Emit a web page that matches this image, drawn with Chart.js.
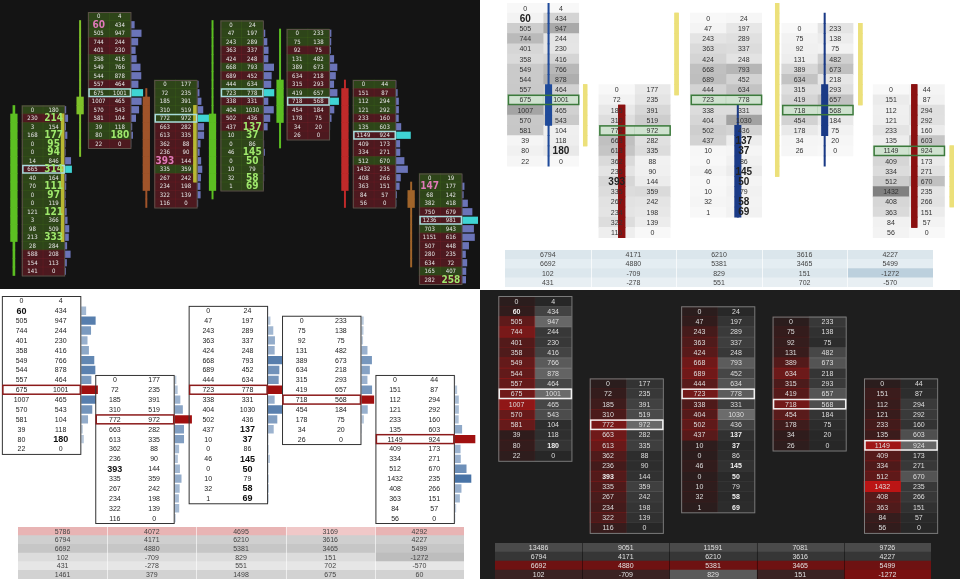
<!DOCTYPE html>
<html lang="en">
<head>
<meta charset="UTF-8">
<title>Footprint</title>
<script src="https://cdn.jsdelivr.net/npm/chart.js"></script>
<style>
  body { margin: 0; background: #fff; width: 960px; height: 579px; overflow: hidden; position: relative; }
  .panel { position: absolute; width: 480px; height: 289px; overflow: hidden; }
  .panel canvas { position: absolute; }
</style>
</head>
<body>
<div class="panel" id="p0" style="left:0;top:0;background:#141414"></div>
<div class="panel" id="p1" style="left:480px;top:0;background:#fff"></div>
<div class="panel" id="p2" style="left:0;top:290px;background:#fff"></div>
<div class="panel" id="p3" style="left:480px;top:290px;background:#1e1e1e"></div>
<script>
// footprint columns: bid x ask per price row, top to bottom
var colABid = [0, 230, 3, 168, 0, 0, 14, 665, 40, 70, 0, 0, 121, 3, 98, 213, 28, 588, 154, 141]
var colAAsk = [180, 214, 154, 177, 95, 94, 846, 314, 164, 111, 97, 119, 121, 366, 509, 333, 284, 208, 113, 0]
var col1Bid = [0, 60, 505, 744, 401, 358, 549, 544, 557, 675, 1007, 570, 581, 39, 80, 22]
var col1Ask = [4, 434, 947, 244, 230, 416, 766, 878, 464, 1001, 465, 543, 104, 118, 180, 0]
var col2Bid = [0, 72, 185, 310, 772, 663, 613, 362, 236, 393, 335, 267, 234, 322, 116]
var col2Ask = [177, 235, 391, 519, 972, 282, 335, 88, 90, 144, 359, 242, 198, 139, 0]
var col3Bid = [0, 47, 243, 363, 424, 668, 689, 444, 723, 338, 404, 502, 437, 10, 0, 46, 0, 10, 32, 1]
var col3Ask = [24, 197, 289, 337, 248, 793, 452, 634, 778, 331, 1030, 436, 137, 37, 86, 145, 50, 79, 58, 69]
var col4Bid = [0, 75, 92, 131, 389, 634, 315, 419, 718, 454, 178, 34, 26]
var col4Ask = [233, 138, 75, 482, 673, 218, 293, 657, 568, 184, 75, 20, 0]
var col5Bid = [0, 151, 112, 121, 233, 135, 1149, 409, 334, 512, 1432, 408, 363, 84, 56]
var col5Ask = [44, 87, 294, 292, 160, 603, 924, 173, 271, 670, 235, 266, 151, 57, 0]
var colBBid = [0, 147, 68, 382, 750, 1236, 703, 1151, 507, 280, 634, 165, 282]
var colBAsk = [19, 177, 142, 418, 679, 981, 943, 616, 448, 235, 72, 407, 258]

// summary table rows
var sumVolume = [13486, 9051, 11591, 7081, 9726]
var sumTrades = [5786, 4072, 4695, 3169, 4292]
var sumBuy = [6794, 4171, 6210, 3616, 4227]
var sumSell = [6692, 4880, 5381, 3465, 5499]
var sumDelta = [102, -709, 829, 151, -1272]
var sumCumDelta = [431, -278, 551, 702, -570]
var sumLast = [1461, 379, 1498, 675, 60]

function mkCol(bid, ask, offset, poc) { return { bid: bid, ask: ask, offset: offset, poc: poc } }
var cA = mkCol(colABid, colAAsk, 11, 7)
var c1 = mkCol(col1Bid, col1Ask, 0, 9)
var c2 = mkCol(col2Bid, col2Ask, 8, 4)
var c3 = mkCol(col3Bid, col3Ask, 1, 8)
var c4 = mkCol(col4Bid, col4Ask, 2, 8)
var c5 = mkCol(col5Bid, col5Ask, 8, 6)
var cB = mkCol(colBBid, colBAsk, 19, 5)

function addCanvas(panel, left, top, w, h) {
    var cv = document.createElement('canvas')
    cv.width = w; cv.height = h
    cv.style.left = left + 'px'; cv.style.top = top + 'px'
    cv.style.width = w + 'px'; cv.style.height = h + 'px'
    document.getElementById(panel).appendChild(cv)
    return cv
}

function big(col, i, side) {
    // diagonal imbalance
    if (side == 'bid') {
        var o = i > 0 ? col.ask[i - 1] : 0
        return col.bid[i] >= 40 && col.bid[i] >= 4 * Math.max(o, 1)
    }
    var o2 = i + 1 < col.bid.length ? col.bid[i + 1] : 0
    return col.ask[i] >= 30 && col.ask[i] >= 4 * Math.max(o2, 1)
}

function footprint(cfg) {
    var H = 289
    var N = Math.floor((H - cfg.padTop) / cfg.pitch)
    var labels = []
    for (var r = 0; r < N; r++) labels.push(r)
    var maxV = 0, maxT = 0
    cfg.cols.forEach(function (col) {
        col.bid.forEach(function (b, i) {
            maxV = Math.max(maxV, b, col.ask[i]); maxT = Math.max(maxT, b + col.ask[i])
        })
    })
    var datasets = []
    var t = cfg.theme
    cfg.cols.forEach(function (col, c) {
        var bd = labels.map(function () { return null }), ad = bd.slice(), pd = bd.slice()
        var bc = [], ac = [], pc = []
        col.bid.forEach(function (b, i) {
            var g = col.offset + i
            bd[g] = [c, c + cfg.boxW / 2]
            ad[g] = [c + cfg.boxW / 2, c + cfg.boxW]
            bc[g] = t.cell(b, col.ask[i], maxV, 'bid', i == col.poc)
            ac[g] = t.cell(b, col.ask[i], maxV, 'ask', i == col.poc)
            if (t.profile) {
                var x0 = c + cfg.boxW + 0.01
                pd[g] = [x0, x0 + cfg.profW * (b + col.ask[i]) / maxT]
                pc[g] = t.profile((b + col.ask[i]) / maxT, i == col.poc)
            }
        })
        datasets.push({ data: bd, backgroundColor: bc, barPercentage: 1, categoryPercentage: 1, order: 3 })
        datasets.push({ data: ad, backgroundColor: ac, barPercentage: 1, categoryPercentage: 1, order: 3 })
        if (t.profile) datasets.push({ data: pd, backgroundColor: pc, barPercentage: 0.85, categoryPercentage: 1, order: 2 })
    })
    ;(cfg.candles || []).forEach(function (k) {
        var wd = labels.map(function () { return null }), kd = wd.slice()
        for (var r = k.w0; r <= k.w1; r++) wd[r] = [k.x - k.ww / 2, k.x + k.ww / 2]
        for (var r2 = k.b0; r2 <= k.b1; r2++) kd[r2] = [k.x - k.bw / 2, k.x + k.bw / 2]
        datasets.push({ data: wd, backgroundColor: k.wc || k.color, barPercentage: 1, categoryPercentage: 1, order: 1 })
        datasets.push({ data: kd, backgroundColor: k.color, barPercentage: 1, categoryPercentage: 1, order: 0 })
    })

    var textPlugin = {
        id: 'fpText',
        afterDatasetsDraw: function (chart) {
            var ctx = chart.ctx, xs = chart.scales.x, ys = chart.scales.y
            var half = (ys.getPixelForValue(1) - ys.getPixelForValue(0)) / 2
            ctx.save()
            cfg.cols.forEach(function (col, c) {
                var top = ys.getPixelForValue(col.offset) - half
                var bot = ys.getPixelForValue(col.offset + col.bid.length - 1) + half
                var l = xs.getPixelForValue(c), rr = xs.getPixelForValue(c + cfg.boxW)
                if (t.box) { ctx.strokeStyle = t.box; ctx.lineWidth = 1; ctx.strokeRect(l + 0.5, top + 0.5, rr - l, bot - top) }
                var py = ys.getPixelForValue(col.offset + col.poc)
                ctx.strokeStyle = t.poc; ctx.lineWidth = 1.5
                ctx.strokeRect(l + 1, py - half + 0.5, rr - l - 1, half * 2 - 1)
                ctx.textAlign = 'center'; ctx.textBaseline = 'middle'
                col.bid.forEach(function (b, i) {
                    var y = ys.getPixelForValue(col.offset + i)
                    ;[['bid', b, 0.25], ['ask', col.ask[i], 0.75]].forEach(function (s) {
                        var isBig = big(col, i, s[0])
                        ctx.font = (isBig ? 'bold ' + t.bigSize : t.size) + 'px ' + t.font
                        ctx.fillStyle = isBig ? t.bigColor(s[0]) : t.text
                        ctx.fillText(s[1], xs.getPixelForValue(c + cfg.boxW * s[2]), y + 0.5)
                    })
                })
            })
            ctx.restore()
        }
    }

    var cv = addCanvas(cfg.panel, 0, 0, 480, H)
    new Chart(cv, {
        type: 'bar',
        data: { labels: labels, datasets: datasets },
        options: {
            indexAxis: 'y', responsive: false, animation: false,
            datasets: { bar: { grouped: false } },
            layout: { padding: { top: cfg.padTop, bottom: H - cfg.padTop - N * cfg.pitch, left: 0, right: 0 } },
            plugins: { legend: { display: false }, tooltip: { enabled: false } },
            scales: {
                x: { type: 'linear', min: cfg.xMin, max: cfg.xMax, display: false },
                y: { display: false }
            }
        },
        plugins: [textPlugin]
    })
}

function table(cfg) {
    var rows = cfg.rows
    var datasets = []
    for (var c = 0; c < 5; c++) {
        datasets.push({
            data: rows.map(function () { return [c, c + 1] }),
            backgroundColor: rows.map(function (r, ri) { return cfg.color(ri, c, r[c]) }),
            barPercentage: 1, categoryPercentage: 1
        })
    }
    var plug = {
        id: 'tblText',
        afterDatasetsDraw: function (chart) {
            var ctx = chart.ctx, xs = chart.scales.x, ys = chart.scales.y
            ctx.save()
            ctx.font = '7px Liberation Sans'; ctx.fillStyle = cfg.text
            ctx.textAlign = 'center'; ctx.textBaseline = 'middle'
            rows.forEach(function (r, ri) {
                r.forEach(function (v, c) { ctx.fillText(v, xs.getPixelForValue(c + 0.5), ys.getPixelForValue(ri) + 0.5) })
            })
            ctx.strokeStyle = cfg.grid; ctx.lineWidth = 1
            for (var c2 = 1; c2 < 5; c2++) {
                var x = Math.round(xs.getPixelForValue(c2)) + 0.5
                ctx.beginPath(); ctx.moveTo(x, chart.chartArea.top); ctx.lineTo(x, chart.chartArea.bottom); ctx.stroke()
            }
            ctx.restore()
        }
    }
    var cv = addCanvas(cfg.panel, cfg.left, cfg.top, cfg.width, cfg.height)
    new Chart(cv, {
        type: 'bar',
        data: { labels: rows.map(function (r, i) { return i }), datasets: datasets },
        options: {
            indexAxis: 'y', responsive: false, animation: false,
            datasets: { bar: { grouped: false } },
            layout: { padding: 0 },
            plugins: { legend: { display: false }, tooltip: { enabled: false } },
            scales: { x: { type: 'linear', min: 0, max: 5, display: false }, y: { display: false } }
        },
        plugins: [plug]
    })
}

// panel 0: dark, 7 columns
footprint({
    panel: 'p0', cols: [cA, c1, c2, c3, c4, c5, cB], xMin: -0.33, xMax: 6.92, boxW: 0.64, profW: 0.24,
    pitch: 8.5, padTop: 12,
    theme: {
        font: 'Liberation Sans Narrow, DejaVu Sans Condensed, sans-serif', size: 6, bigSize: 10,
        text: '#e6e6e6', box: '#5b5048', poc: '#a8dcdc',
        bigColor: function (s) { return s == 'ask' ? '#9fe86c' : '#e07ab8' },
        cell: function (b, a) { return b > a ? 'rgba(115,28,38,0.6)' : 'rgba(60,95,28,0.65)' },
        profile: function (f, poc) { return poc ? '#3fd4d4' : '#6b74b8' }
    },
    candles: [
        { x: -0.12, w0: 11, w1: 30, b0: 12, b1: 26, color: '#5cbf22', ww: 0.03, bw: 0.1 },
        { x: 0.62, w0: 12, w1: 26, b0: 12, b1: 26, color: '#b8b832', ww: 0.05, bw: 0.05 },
        { x: 0.88, w0: 1, w1: 16, b0: 10, b1: 11, color: '#7fc22a', ww: 0.02, bw: 0.1 },
        { x: 1.88, w0: 9, w1: 22, b0: 10, b1: 20, color: '#a0542a', ww: 0.02, bw: 0.1 },
        { x: 2.62, w0: 11, w1: 19, b0: 11, b1: 19, color: '#b8b832', ww: 0.05, bw: 0.05 },
        { x: 2.88, w0: 1, w1: 21, b0: 12, b1: 20, color: '#5cbf22', ww: 0.02, bw: 0.1 },
        { x: 3.9, w0: 2, w1: 15, b0: 8, b1: 12, color: '#5cbf22', ww: 0.02, bw: 0.1 },
        { x: 4.88, w0: 8, w1: 22, b0: 9, b1: 20, color: '#c02a2a', ww: 0.02, bw: 0.1 },
        { x: 5.88, w0: 20, w1: 29, b0: 21, b1: 22, color: '#a0642a', ww: 0.02, bw: 0.1 }
    ]
})

// panel 1: light grey
footprint({
    panel: 'p1', cols: [c1, c2, c3, c4, c5], xMin: -0.3, xMax: 4.95, boxW: 0.78, profW: 0,
    pitch: 10.2, padTop: 3,
    theme: {
        font: 'Liberation Sans, sans-serif', size: 7, bigSize: 10,
        text: '#333', box: null, poc: '#3c7a3c',
        bigColor: function () { return '#222' },
        cell: function (b, a, m, s, poc) {
            if (poc) return 'rgba(150,190,150,0.45)'
            var v = s == 'bid' ? b : a
            var g = Math.round(248 - 120 * v / m)
            return 'rgb(' + g + ',' + g + ',' + g + ')'
        },
        profile: null
    },
    candles: [
        { x: 0.45, w0: 0, w1: 15, b0: 8, b1: 11, color: '#1f4a9a', ww: 0.015, bw: 0.07 },
        { x: 0.85, w0: 8, w1: 13, b0: 8, b1: 13, color: '#ece07a', ww: 0.04, bw: 0.04 },
        { x: 1.25, w0: 10, w1: 22, b0: 10, b1: 22, color: '#8a1010', ww: 0.07, bw: 0.07 },
        { x: 1.85, w0: 1, w1: 8, b0: 1, b1: 8, color: '#ece07a', ww: 0.04, bw: 0.04 },
        { x: 2.52, w0: 10, w1: 20, b0: 12, b1: 20, color: '#1a3a86', ww: 0.015, bw: 0.07 },
        { x: 2.95, w0: 0, w1: 16, b0: 0, b1: 16, color: '#ece07a', ww: 0.04, bw: 0.04 },
        { x: 3.47, w0: 1, w1: 15, b0: 8, b1: 12, color: '#1a3a86', ww: 0.015, bw: 0.07 },
        { x: 3.86, w0: 2, w1: 9, b0: 2, b1: 9, color: '#ece07a', ww: 0.04, bw: 0.04 },
        { x: 4.45, w0: 8, w1: 21, b0: 8, b1: 21, color: '#8a1010', ww: 0.06, bw: 0.06 },
        { x: 4.86, w0: 14, w1: 19, b0: 14, b1: 19, color: '#ece07a', ww: 0.04, bw: 0.04 }
    ]
})
table({
    panel: 'p1', left: 25, top: 250, width: 428, height: 37, text: '#444', grid: 'rgba(255,255,255,0.7)',
    rows: [sumBuy, sumSell, sumDelta, sumCumDelta],
    color: function (ri, c, v) {
        if (ri == 2 && v < -1000) return '#bcd0dd'
        return ['#dbe6ec', '#e4edf2', '#dce7ed', '#e8eff3'][ri]
    }
})

// panel 2: white with boxes and blue profile
footprint({
    panel: 'p2', cols: [c1, c2, c3, c4, c5], xMin: -0.02, xMax: 5.12, boxW: 0.84, profW: 0.22,
    pitch: 9.87, padTop: 6,
    theme: {
        font: 'Liberation Sans, sans-serif', size: 7, bigSize: 9,
        text: '#222', box: '#333', poc: '#8b1a1a',
        bigColor: function () { return '#111' },
        cell: function () { return 'rgba(255,255,255,0)' },
        profile: function (f, poc) { return poc ? '#a01010' : 'rgba(40,90,150,' + (0.25 + 0.75 * f).toFixed(2) + ')' }
    }
})
table({
    panel: 'p2', left: 18, top: 237, width: 446, height: 52, text: '#444', grid: 'rgba(255,255,255,0.6)',
    rows: [sumTrades, sumBuy, sumSell, sumDelta, sumCumDelta, sumLast],
    color: function (ri, c, v) {
        if (ri == 0) return c == 3 ? '#f0c8c8' : '#e8b4b4'
        var base = [0, '#cfcfcf', '#c6c6c6', '#dcdcdc', '#e6e6e6', '#d2d2d2'][ri]
        if (ri == 3 && v < -1000) return '#bdbdbd'
        return base
    }
})

// panel 3: dark with red bid cells
footprint({
    panel: 'p3', cols: [c1, c2, c3, c4, c5], xMin: -0.2, xMax: 5.05, boxW: 0.8, profW: 0,
    pitch: 10.3, padTop: 6,
    theme: {
        font: 'Liberation Sans, sans-serif', size: 7, bigSize: 7,
        text: '#dedede', box: '#7a7a7a', poc: '#f0f0f0',
        bigColor: function () { return '#f0f0f0' },
        cell: function (b, a, m, s) {
            if (s == 'bid') return 'rgba(210,20,20,' + (0.08 + 0.8 * b / m).toFixed(2) + ')'
            return 'rgba(190,190,190,' + (0.06 + 0.6 * a / m).toFixed(2) + ')'
        },
        profile: null
    }
})
table({
    panel: 'p3', left: 15, top: 253, width: 436, height: 36, text: '#e0e0e0', grid: 'rgba(0,0,0,0.4)',
    rows: [sumVolume, sumBuy, sumSell, sumDelta],
    color: function (ri, c, v) {
        if (ri == 3) return v < -1000 ? '#7a1010' : (v > 500 ? '#5a5a5a' : '#3a2222')
        return ['#4a4a4a', '#363636', '#6e1212', ''][ri]
    }
})
</script>
</body>
</html>
